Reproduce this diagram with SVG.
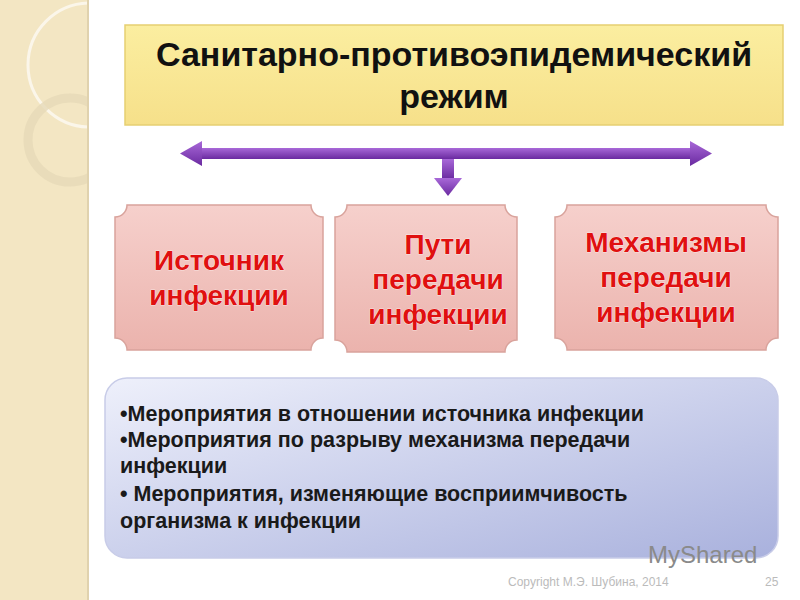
<svg xmlns="http://www.w3.org/2000/svg" width="800" height="600" viewBox="0 0 800 600">
<defs>
<linearGradient id="yel" x1="0" y1="0" x2="0" y2="1"><stop offset="0" stop-color="#fbeea0"/><stop offset="1" stop-color="#f6e08a"/></linearGradient>
<linearGradient id="pink" x1="0" y1="0" x2="0" y2="1"><stop offset="0" stop-color="#f6d0cc"/><stop offset="1" stop-color="#ebb3ad"/></linearGradient>
<linearGradient id="lav" x1="0" y1="0" x2="1" y2="1"><stop offset="0" stop-color="#eef0fb"/><stop offset="1" stop-color="#a9b1dd"/></linearGradient>
<linearGradient id="pur" x1="0" y1="0" x2="0" y2="1"><stop offset="0" stop-color="#a868d8"/><stop offset="1" stop-color="#6a2aa0"/></linearGradient>
<clipPath id="sb"><rect x="0" y="0" width="88" height="600"/></clipPath>
<style>
.box{fill:url(#pink);stroke:#d9a39c;stroke-width:1.5}
.lbl{font-family:"Liberation Sans",Arial,sans-serif;font-weight:bold;font-size:28px;fill:#e01010;text-anchor:middle;stroke:#fff;stroke-width:0.6;paint-order:stroke}
.item{font-family:"Liberation Sans",Arial,sans-serif;font-weight:bold;font-size:21.5px;fill:#1a1a1a}
</style>
</defs>
<rect width="800" height="600" fill="#fff"/>
<g id="sidebar">
<rect x="0" y="0" width="88" height="600" fill="#f3e6c3"/>
<g clip-path="url(#sb)">
<circle cx="90" cy="65" r="62" fill="none" stroke="#fbf6ea" stroke-width="3"/>
<circle cx="70" cy="140" r="42" fill="none" stroke="#e6d9b8" stroke-width="9" opacity="0.8"/>
</g>
<line x1="88" y1="0" x2="88" y2="600" stroke="#e0d2ae" stroke-width="2"/>
</g>
<g id="title">
<rect x="125" y="25" width="658" height="100" fill="url(#yel)" stroke="#e6cf72" stroke-width="1.5"/>
<text font-family="Liberation Sans,Arial,sans-serif" font-weight="bold" font-size="34" fill="#111" text-anchor="middle"><tspan x="454" y="66">Санитарно-противоэпидемический</tspan><tspan x="454" y="108">режим</tspan></text>
</g>
<g id="connectors">
<rect x="198" y="148" width="496" height="11" fill="url(#pur)"/>
<path d="M180 153.5 L202 141 V166 Z M712 153.5 L690 141 V166 Z" fill="url(#pur)"/>
<rect x="442" y="159" width="12" height="20" fill="url(#pur)"/>
<path d="M434 178 H462 L448 196 Z" fill="url(#pur)"/>
</g>
<g id="n1">
<path class="box" d="M127 205 H311 A12 12 0 0 0 323 217 V338 A12 12 0 0 0 311 350 H127 A12 12 0 0 0 115 338 V217 A12 12 0 0 0 127 205 Z"/>
<text class="lbl"><tspan x="219" y="270">Источник</tspan><tspan x="219" y="305">инфекции</tspan></text>
</g>
<g id="n2">
<path class="box" d="M347 205 H505 A12 12 0 0 0 517 217 V340 A12 12 0 0 0 505 352 H347 A12 12 0 0 0 335 340 V217 A12 12 0 0 0 347 205 Z"/>
<text class="lbl"><tspan x="438" y="254">Пути</tspan><tspan x="438" y="289">передачи</tspan><tspan x="438" y="324">инфекции</tspan></text>
</g>
<g id="n3">
<path class="box" d="M567 205 H766 A12 12 0 0 0 778 217 V338 A12 12 0 0 0 766 350 H567 A12 12 0 0 0 555 338 V217 A12 12 0 0 0 567 205 Z"/>
<text class="lbl"><tspan x="666" y="252">Механизмы</tspan><tspan x="666" y="287">передачи</tspan><tspan x="666" y="322">инфекции</tspan></text>
</g>
<g id="n4">
<rect x="105" y="378" width="673" height="180" rx="22" fill="url(#lav)" stroke="#c8cce8" stroke-width="1.5"/>
<text class="item"><tspan x="120" y="421">•Мероприятия в отношении источника инфекции</tspan><tspan x="120" y="447">•Мероприятия  по разрыву механизма передачи</tspan><tspan x="120" y="473">инфекции</tspan><tspan x="120" y="501">• Мероприятия, изменяющие восприимчивость</tspan><tspan x="120" y="528">организма к инфекции</tspan></text>
</g>
<g id="footer" font-family="Liberation Sans,Arial,sans-serif">
<text x="648" y="563" font-size="24" fill="#8a8a8a">MyShared</text>
<text x="508" y="586" font-size="12" fill="#bbb">Copyright М.Э. Шубина, 2014</text>
<text x="765" y="586" font-size="12" fill="#bbb">25</text>
</g>
</svg>
